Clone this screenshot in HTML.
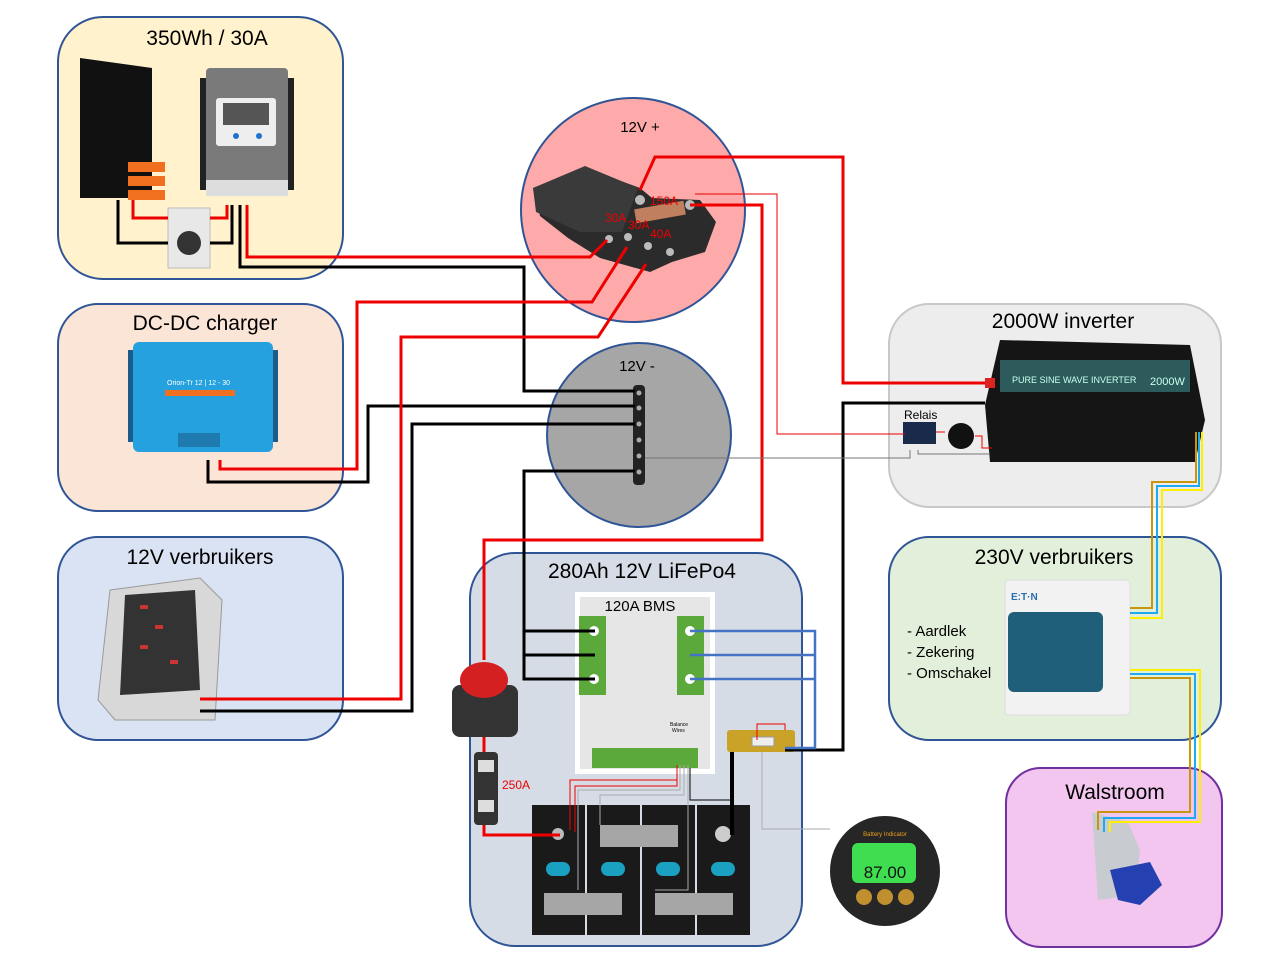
<!DOCTYPE html>
<html><head><meta charset="utf-8"><style>
html,body{margin:0;padding:0;background:#fff;}
svg{display:block;font-family:"Liberation Sans","DejaVu Sans",sans-serif;}
</style></head><body>
<svg width="1280" height="960" viewBox="0 0 1280 960" xmlns="http://www.w3.org/2000/svg">
<rect x="58" y="17" width="285" height="262" rx="45" fill="#fff2cc" stroke="#2f5597" stroke-width="2"/>
<rect x="58" y="304" width="285" height="207" rx="40" fill="#fbe5d6" stroke="#2f5597" stroke-width="2"/>
<rect x="58" y="537" width="285" height="203" rx="40" fill="#dae3f3" stroke="#2f5597" stroke-width="2"/>
<rect x="470" y="553" width="332" height="393" rx="45" fill="#d6dce5" stroke="#2f5597" stroke-width="2"/>
<rect x="889" y="304" width="332" height="203" rx="40" fill="#ededed" stroke="#c8c8c8" stroke-width="2"/>
<rect x="889" y="537" width="332" height="203" rx="40" fill="#e2efda" stroke="#2f5597" stroke-width="2"/>
<rect x="1006" y="768" width="216" height="179" rx="35" fill="#f2c6ef" stroke="#7030a0" stroke-width="2"/>
<circle cx="633" cy="210" r="112" fill="#ffaaaa" stroke="#2f5597" stroke-width="2"/>
<circle cx="639" cy="435" r="92" fill="#a6a6a6" stroke="#2f5597" stroke-width="2"/>

<g font-size="21" fill="#000" text-anchor="middle">
<text x="207" y="45">350Wh / 30A</text>
<text x="205" y="330">DC-DC charger</text>
<text x="200" y="564">12V verbruikers</text>
<text x="642" y="578">280Ah 12V LiFePo4</text>
<text x="1063" y="328">2000W inverter</text>
<text x="1054" y="564">230V verbruikers</text>
<text x="1115" y="799">Walstroom</text>
</g>
<text x="640" y="132" font-size="15" text-anchor="middle">12V +</text>
<text x="637" y="371" font-size="15" text-anchor="middle">12V -</text>
<text x="904" y="419" font-size="12">Relais</text>
<g font-size="15"><text x="907" y="636">- Aardlek</text><text x="907" y="657">- Zekering</text><text x="907" y="678">- Omschakel</text></g>

<polygon points="80,58 152,68 152,198 80,198" fill="#111"/>
<g><rect x="128" y="162" width="37" height="10" fill="#f07020"/><rect x="128" y="176" width="37" height="10" fill="#f07020"/><rect x="128" y="190" width="37" height="10" fill="#f07020"/></g>
<rect x="200" y="78" width="8" height="112" fill="#222"/><rect x="286" y="78" width="8" height="112" fill="#222"/>
<rect x="206" y="68" width="82" height="128" rx="4" fill="#7a7a7a"/>
<rect x="216" y="98" width="60" height="48" rx="3" fill="#eee"/><rect x="223" y="103" width="46" height="22" fill="#555"/>
<circle cx="236" cy="136" r="3" fill="#1e73d0"/><circle cx="259" cy="136" r="3" fill="#1e73d0"/>
<rect x="206" y="180" width="82" height="16" fill="#ddd"/>
<rect x="168" y="208" width="42" height="60" fill="#e8e8e8" stroke="#bbb"/>
<circle cx="189" cy="243" r="12" fill="#333"/>
<rect x="128" y="350" width="150" height="92" fill="#1d5c8a"/>
<rect x="133" y="342" width="140" height="110" rx="6" fill="#25a1e0"/>
<rect x="165" y="390" width="70" height="6" fill="#f07020"/>
<text x="167" y="385" font-size="7" fill="#fff">Orion-Tr 12 | 12 - 30</text>
<rect x="178" y="433" width="42" height="14" fill="#1f7ab0"/>
<polygon points="110,590 200,578 222,600 215,720 115,720 98,700" fill="#d8d8d8" stroke="#999"/>
<polygon points="125,595 195,590 200,690 120,695" fill="#333"/>
<g fill="#c33"><rect x="140" y="605" width="8" height="4"/><rect x="155" y="625" width="8" height="4"/><rect x="140" y="645" width="8" height="4"/><rect x="170" y="660" width="8" height="4"/></g>
<!-- fuse box -->
<polygon points="533,188 585,168 640,188 652,198 700,200 716,222 705,252 672,262 650,272 600,258 568,238 540,216" fill="#2b2b2b"/>
<polygon points="533,188 585,166 638,188 622,232 580,232 536,212" fill="#3a3a3a"/>
<rect x="635" y="205" width="50" height="14" fill="#c08060" transform="rotate(-10 660 212)"/>
<g fill="#bbb"><circle cx="640" cy="200" r="5"/><circle cx="690" cy="205" r="5"/><circle cx="609" cy="239" r="4"/><circle cx="628" cy="237" r="4"/><circle cx="648" cy="246" r="4"/><circle cx="670" cy="252" r="4"/></g>
<g font-size="12" fill="#e00"><text x="650" y="205">150A</text><text x="605" y="222">30A</text><text x="628" y="229">30A</text><text x="650" y="238">40A</text></g>
<rect x="633" y="385" width="12" height="100" rx="4" fill="#222"/>
<g fill="#aaa"><circle cx="639" cy="393" r="2.5"/><circle cx="639" cy="408" r="2.5"/><circle cx="639" cy="424" r="2.5"/><circle cx="639" cy="440" r="2.5"/><circle cx="639" cy="456" r="2.5"/><circle cx="639" cy="472" r="2.5"/></g>
<!-- inverter -->
<polygon points="1000,340 1190,345 1205,420 1195,462 990,462 985,405" fill="#151515"/>
<rect x="1000" y="360" width="190" height="32" fill="#2d5a5a"/>
<text x="1012" y="383" font-size="9" fill="#cfe">PURE SINE WAVE INVERTER</text>
<text x="1150" y="385" font-size="11" fill="#cfe">2000W</text>
<rect x="985" y="378" width="10" height="10" fill="#d22"/>
<rect x="903" y="422" width="33" height="22" fill="#1a2a4a"/>
<circle cx="961" cy="436" r="13" fill="#111"/>
<rect x="1005" y="580" width="125" height="135" rx="4" fill="#f2f2f2" stroke="#ddd"/>
<rect x="1008" y="612" width="95" height="80" rx="6" fill="#1f5f7a"/>
<text x="1011" y="600" font-size="10" fill="#2a6fb0" font-weight="bold">E:T·N</text>
<polygon points="1092,812 1128,822 1140,850 1135,895 1098,900" fill="#c8ccd0"/>
<polygon points="1110,870 1150,862 1162,885 1140,905 1118,900" fill="#2540b0"/>
<!-- BMS -->
<rect x="575" y="592" width="140" height="182" fill="#fff"/>
<rect x="580" y="597" width="130" height="172" fill="#e6e6e6"/>
<text x="640" y="611" font-size="15" text-anchor="middle">120A BMS</text>
<rect x="579" y="616" width="27" height="79" fill="#5aa93a"/>
<rect x="677" y="616" width="27" height="79" fill="#5aa93a"/>
<rect x="592" y="748" width="106" height="20" fill="#5aa93a"/>
<g fill="#fff"><circle cx="594" cy="631" r="5"/><circle cx="594" cy="679" r="5"/><circle cx="690" cy="631" r="5"/><circle cx="690" cy="679" r="5"/></g>
<g font-size="5"><text x="670" y="726">Balance</text><text x="672" y="732">Wires</text></g>
<g fill="#1a1a1a"><rect x="532" y="805" width="53" height="130"/><rect x="587" y="805" width="53" height="130"/><rect x="642" y="805" width="53" height="130"/><rect x="697" y="805" width="53" height="130"/></g>
<g fill="#a6a6a6"><rect x="600" y="825" width="78" height="22"/><rect x="544" y="893" width="78" height="22"/><rect x="655" y="893" width="78" height="22"/></g>
<g fill="#1aa0c0"><rect x="546" y="862" width="24" height="14" rx="7"/><rect x="601" y="862" width="24" height="14" rx="7"/><rect x="656" y="862" width="24" height="14" rx="7"/><rect x="711" y="862" width="24" height="14" rx="7"/></g>
<circle cx="558" cy="834" r="6" fill="#bbb"/><circle cx="723" cy="834" r="8" fill="#ccc"/>
<rect x="452" y="685" width="66" height="52" rx="8" fill="#333"/>
<ellipse cx="484" cy="680" rx="24" ry="18" fill="#d42020"/>
<rect x="474" y="752" width="24" height="73" rx="4" fill="#333"/>
<rect x="478" y="760" width="16" height="12" fill="#ddd"/><rect x="478" y="800" width="16" height="12" fill="#ddd"/>
<text x="502" y="789" font-size="12" fill="#e00">250A</text>
<rect x="727" y="730" width="68" height="22" rx="3" fill="#c9a227"/>
<rect x="752" y="737" width="22" height="9" fill="#eee" stroke="#999"/>
<circle cx="885" cy="871" r="55" fill="#262626"/>
<rect x="852" y="843" width="64" height="40" rx="6" fill="#3fdd50"/>
<text x="885" y="836" font-size="6" fill="#e8a020" text-anchor="middle">Battery Indicator</text>
<text x="885" y="878" font-size="17" text-anchor="middle" fill="#111">87.00</text>
<g fill="#c09030"><circle cx="864" cy="897" r="8"/><circle cx="885" cy="897" r="8"/><circle cx="906" cy="897" r="8"/></g>

<g fill="none" stroke-linejoin="miter">
<path d="M118,200 V243 H168 M210,243 H232 V205" stroke="#000" stroke-width="3"/>
<path d="M133,200 V218 H168 M210,218 H227 V205" stroke="#e00" stroke-width="3"/>
<path d="M247,205 V257 H590 L607,240" stroke="#e00" stroke-width="3"/>
<path d="M240,205 V267 H524 V391 H635" stroke="#000" stroke-width="3"/>
<path d="M220,460 V469 H357 V302 H592 L627,247" stroke="#e00" stroke-width="3"/>
<path d="M208,460 V482 H368 V406 H635" stroke="#000" stroke-width="3"/>
<path d="M200,699 H401 V337 H598 L646,264" stroke="#e00" stroke-width="3"/>
<path d="M200,711 H412 V424 H635" stroke="#000" stroke-width="3"/>
<path d="M635,471 H524 V679 H595 M524,631 H595 M524,655 H595" stroke="#000" stroke-width="3"/>
<path d="M690,205 H762 V540 H484 V660" stroke="#e00" stroke-width="3"/>
<path d="M484,737 V752 M484,825 V835 H560" stroke="#e00" stroke-width="3"/>
<path d="M640,190 L655,157 H843 V383 H985" stroke="#e00" stroke-width="3"/>
<path d="M695,194 H777 V434 H905" stroke="#e00" stroke-width="1"/>
<path d="M936,432 H945 M975,436 H982 V448 H992" stroke="#e00" stroke-width="1"/>
<path d="M985,403 H843 V750 H785" stroke="#000" stroke-width="3"/>
<path d="M645,458 H910 V450 M918,450 V454 H990" stroke="#777" stroke-width="1"/>
<path d="M690,631 H815 V748 H785 M690,655 H815 M690,679 H815" stroke="#4472c4" stroke-width="2.5"/>
<path d="M732,752 V835" stroke="#000" stroke-width="4"/>
<path d="M677,765 V780 H570 V830 M677,765 V786 H575 V832" stroke="#e00" stroke-width="1"/>
<path d="M757,740 V724 H785 V730" stroke="#e00" stroke-width="1"/>
<path d="M680,765 V790 H578 V890 M684,765 V795 H600 V825 M688,765 V890 H655" stroke="#aaa" stroke-width="1"/>
<path d="M690,768 V800 H733 V830" stroke="#000" stroke-width="1"/>
<path d="M762,752 V829 H830" stroke="#aaa" stroke-width="1"/>
<path d="M1196,432 V482 H1152 V608 H1130" stroke="#c8960c" stroke-width="2"/>
<path d="M1199,432 V486 H1157 V613 H1130" stroke="#1eaaf0" stroke-width="2"/>
<path d="M1202,432 V490 H1162 V618 H1130" stroke="#ffee00" stroke-width="2"/>
<path d="M1130,670 H1200 V822 H1110 V832" stroke="#ffee00" stroke-width="2"/>
<path d="M1130,674 H1195 V818 H1104 V832" stroke="#1eaaf0" stroke-width="2"/>
<path d="M1130,678 H1190 V812 H1098 V830" stroke="#c8960c" stroke-width="2"/>
</g>
</svg>
</body></html>
